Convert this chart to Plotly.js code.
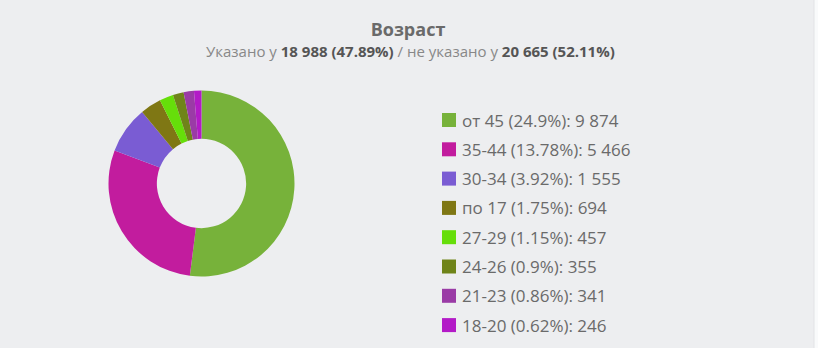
<!DOCTYPE html>
<html>
<head>
<meta charset="utf-8">
<script src="https://cdn.plot.ly/plotly-3.0.1.min.js"></script>
<style>
  html, body { margin: 0; padding: 0; background: #edeef0; }
  #chart { width: 818px; height: 348px; }
</style>
</head>
<body>
<div id="chart"></div>
<script>
// ---- data ----
const categories = ["от 45", "35-44", "30-34", "по 17", "27-29", "24-26", "21-23", "18-20"];
const values = [9874, 5466, 1555, 694, 457, 355, 341, 246];
const percents = ["24.9", "13.78", "3.92", "1.75", "1.15", "0.9", "0.86", "0.62"];
const colors = ["#77b23a", "#c21c9e", "#7a5cd3", "#7f7714", "#66de0a", "#6f8419", "#9a3ba6", "#b31ac7"];
const titleText = "Возраст";
const specifiedCount = "18 988";
const specifiedPct = "47.89%";
const unspecifiedCount = "20 665";
const unspecifiedPct = "52.11%";

// ---- helpers ----
const W = 818, H = 348;
function fmt(n) { return String(n).replace(/\B(?=(\d{3})+(?!\d))/g, " "); }
const px = x => x / W;
const py = y => 1 - y / H;

// pie geometry (pixels)
const cx = 201.5, cy = 183.5, r = 93;

const trace = {
  type: "pie",
  labels: categories,
  values: values,
  marker: { colors: colors, line: { width: 0 } },
  hole: 0.48,
  sort: false,
  direction: "clockwise",
  rotation: 0,
  textinfo: "none",
  hoverinfo: "label+value",
  showlegend: false,
  domain: { x: [px(cx - r), px(cx + r)], y: [py(cy + r), py(cy - r)] }
};

// legend built from the data arrays
const legTop = 120, legStep = 29.3, sq = 14, sqX = 442, txtX = 460;
const annotations = [];
const shapes = [];
categories.forEach((c, i) => {
  const yc = legTop + i * legStep;
  shapes.push({
    type: "rect", xref: "paper", yref: "paper",
    x0: px(sqX), x1: px(sqX + sq), y0: py(yc + sq / 2), y1: py(yc - sq / 2),
    fillcolor: colors[i], line: { width: 0 }
  });
  annotations.push({
    xref: "paper", yref: "paper", x: px(txtX), y: py(yc),
    xanchor: "left", yanchor: "middle", showarrow: false,
    text: c + " (" + percents[i] + "%): " + fmt(values[i]),
    font: { family: "Open Sans", size: 17, color: "#6a6a6a" }
  });
});

// page edge strip on the right
shapes.push({
  type: "rect", xref: "paper", yref: "paper",
  x0: px(814), x1: 1, y0: 0, y1: 1,
  fillcolor: "#f9fafb", line: { width: 0 }, layer: "below"
});
shapes.push({
  type: "line", xref: "paper", yref: "paper",
  x0: px(814), x1: px(814), y0: 0, y1: 1,
  line: { width: 1, color: "#e2e3e6" }, layer: "below"
});

// subtitle
annotations.push({
  xref: "paper", yref: "paper", x: px(410.5), y: py(51),
  xanchor: "center", yanchor: "middle", showarrow: false,
  text: "Указано у <b><span style='color:#555555'>" + specifiedCount + " (" + specifiedPct + ")</span></b> / не указано у <b><span style='color:#555555'>" + unspecifiedCount + " (" + unspecifiedPct + ")</span></b>",
  font: { family: "Open Sans", size: 15, color: "#888888" }
});

const layout = {
  width: W, height: H,
  margin: { l: 0, r: 0, t: 0, b: 0 },
  paper_bgcolor: "#edeef0",
  plot_bgcolor: "#edeef0",
  showlegend: false,
  title: {
    text: titleText,
    x: px(408), xanchor: "center",
    y: py(30), yanchor: "middle",
    xref: "paper", yref: "paper",
    font: { family: "Open Sans", size: 18, color: "#6a6a6a", weight: "bold" }
  },
  annotations: annotations,
  shapes: shapes
};

Plotly.newPlot("chart", [trace], layout, { displayModeBar: false, staticPlot: true });
</script>
</body>
</html>
